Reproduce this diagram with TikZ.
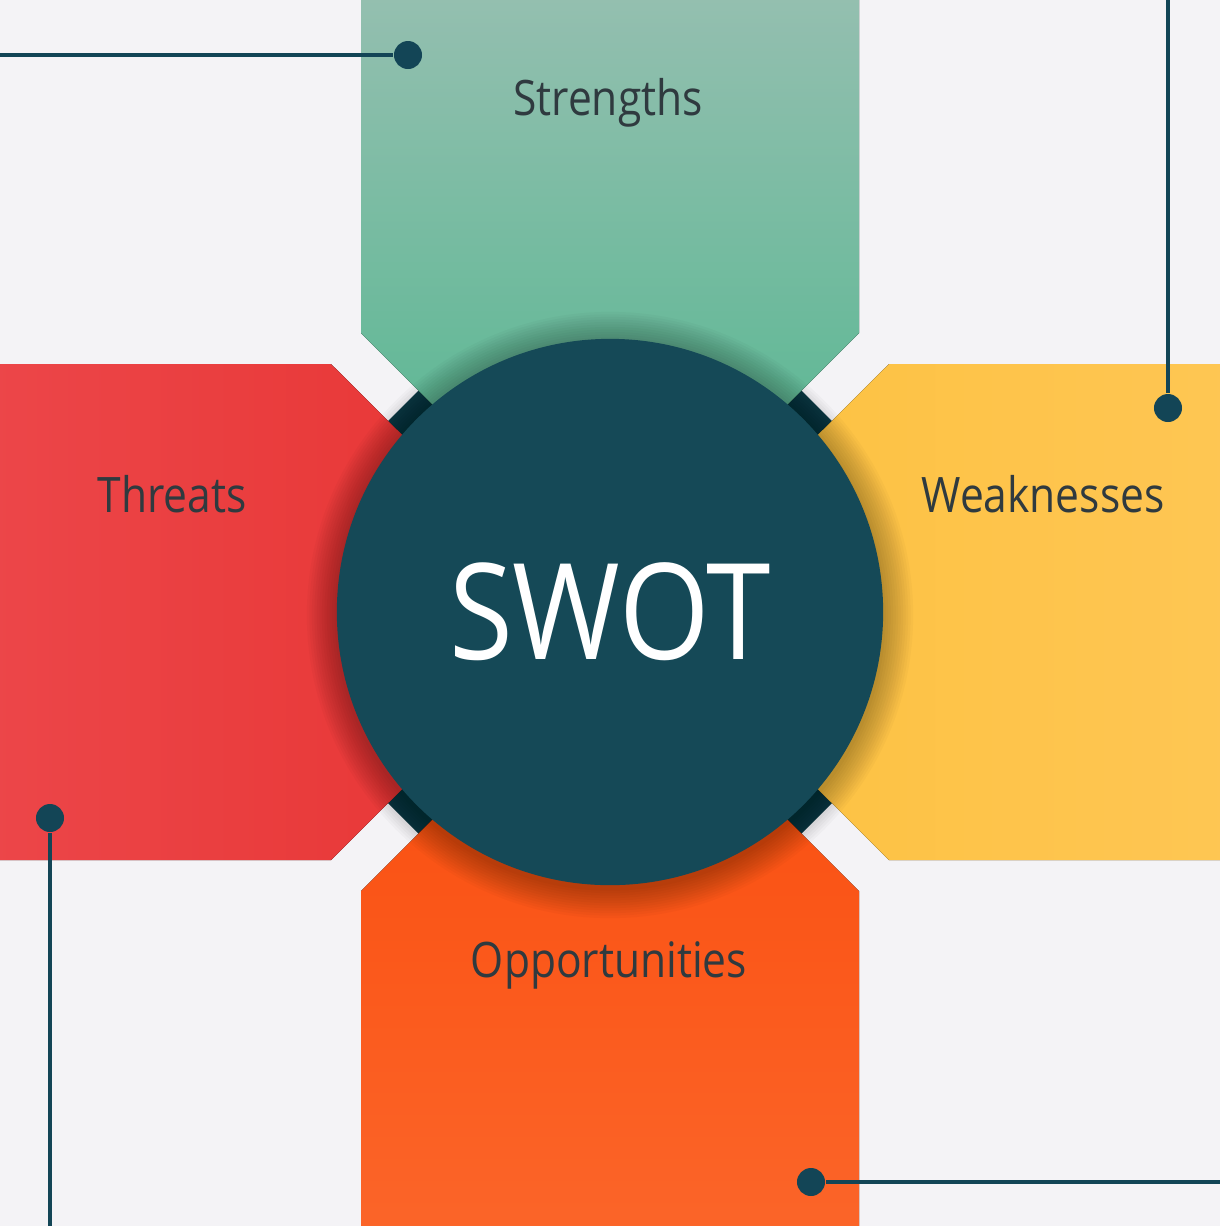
\documentclass[tikz,border=0pt]{standalone}
\usepackage{fontspec}
\setmainfont{Open Sans}
\usepackage{graphicx}
\usepackage{tikz}
\usetikzlibrary{positioning}
\definecolor{palBg}{HTML}{F4F3F6}
\definecolor{palInk}{HTML}{2F3A3F}
\definecolor{palLine}{HTML}{134556}
\definecolor{palHub}{HTML}{154957}
\definecolor{palHubDk}{HTML}{0D3A44}
\definecolor{palGreenTop}{HTML}{95BFB0}
\definecolor{palGreenBot}{HTML}{4CB68C}
\definecolor{palRedLt}{HTML}{EC4649}
\definecolor{palRed}{HTML}{E73331}
\definecolor{palYellow}{HTML}{FDC13E}
\definecolor{palYellowLt}{HTML}{FEC653}
\definecolor{palOrange}{HTML}{FA4A0B}
\definecolor{palOrangeLt}{HTML}{FB6529}
\newcommand\narrowtext[1]{\scalebox{0.87}[1]{#1}}
\tikzset{
  armlabel/.style={anchor=base, inner sep=0pt, text=palInk,
                   font=\fontsize{13.9}{16}\selectfont},
  hubnode/.style={circle, fill=palHub, minimum size=5.46cm, inner sep=0pt,
                  text=white, font=\fontsize{38}{40}\selectfont},
  leadline/.style={draw=palLine, line width=1.4pt},
  leaddot/.style={circle, fill=palLine, minimum size=0.28cm, inner sep=0pt},
}

\begin{document}
\begin{tikzpicture}[x=0.01cm, y=-0.01cm]
\def\xC{610}  % x-position of the hub
\def\yC{612}  % y-position of the hub
\useasboundingbox (0,0) rectangle (1220,1226);
\fill[palBg] (0,0) rectangle (1220,1226);

\begin{scope}
\clip (0,0) rectangle (1220,1226);
%% Dark diamond behind the arms
\fill[palHubDk] (\xC-413,\yC) -- (\xC,\yC-413) -- (\xC+413,\yC) -- (\xC,\yC+413) -- cycle;

%% Arms
\fill[top color=palGreenTop, bottom color=palGreenBot]
  (361,-10) -- (859,-10) -- (859,333) -- (610,582) -- (361,333) -- cycle;
\fill[left color=palRedLt, right color=palRed]
  (-10,364) -- (331,364) -- (580,612) -- (331,860) -- (-10,860) -- cycle;
\fill[left color=palYellow, right color=palYellowLt]
  (1230,364) -- (889,364) -- (640,612) -- (889,860) -- (1230,860) -- cycle;
\fill[top color=palOrange, bottom color=palOrangeLt]
  (361,1236) -- (361,891) -- (610,642) -- (859,891) -- (859,1236) -- cycle;

%% Soft shadow round the hub
\foreach \k in {1,...,12}
  \fill[black, opacity=0.025] (\xC,\yC+3) circle[radius={2.73cm+0.025cm*\k}];
\end{scope}

%% Hub
\node[hubnode] (hub) at (\xC,\yC) {\narrowtext{SWOT}};

%% Labels
\node[armlabel] (lblS) at (608,115) {\narrowtext{Strengths}};
\node[armlabel] (lblT) at (172,512) {\narrowtext{Threats}};
\node[armlabel] (lblW) at (1043,512) {\narrowtext{Weaknesses}};
\node[armlabel] (lblO) at (609,977) {\narrowtext{Opportunities}};

%% Lead lines
\coordinate (endS) at (0,55);
\coordinate (endW) at (1168,0);
\coordinate (endT) at (50,1226);
\coordinate (endO) at (1220,1182);
\node[leaddot] (dotS) at (408,55) {};
\node[leaddot] (dotW) at (1168,408) {};
\node[leaddot] (dotT) at (50,818) {};
\node[leaddot] (dotO) at (811,1182) {};
\draw[leadline] (endS) -- (dotS);
\draw[leadline] (endW) -- (dotW);
\draw[leadline] (endT) -- (dotT);
\draw[leadline] (endO) -- (dotO);
\end{tikzpicture}
\end{document}
